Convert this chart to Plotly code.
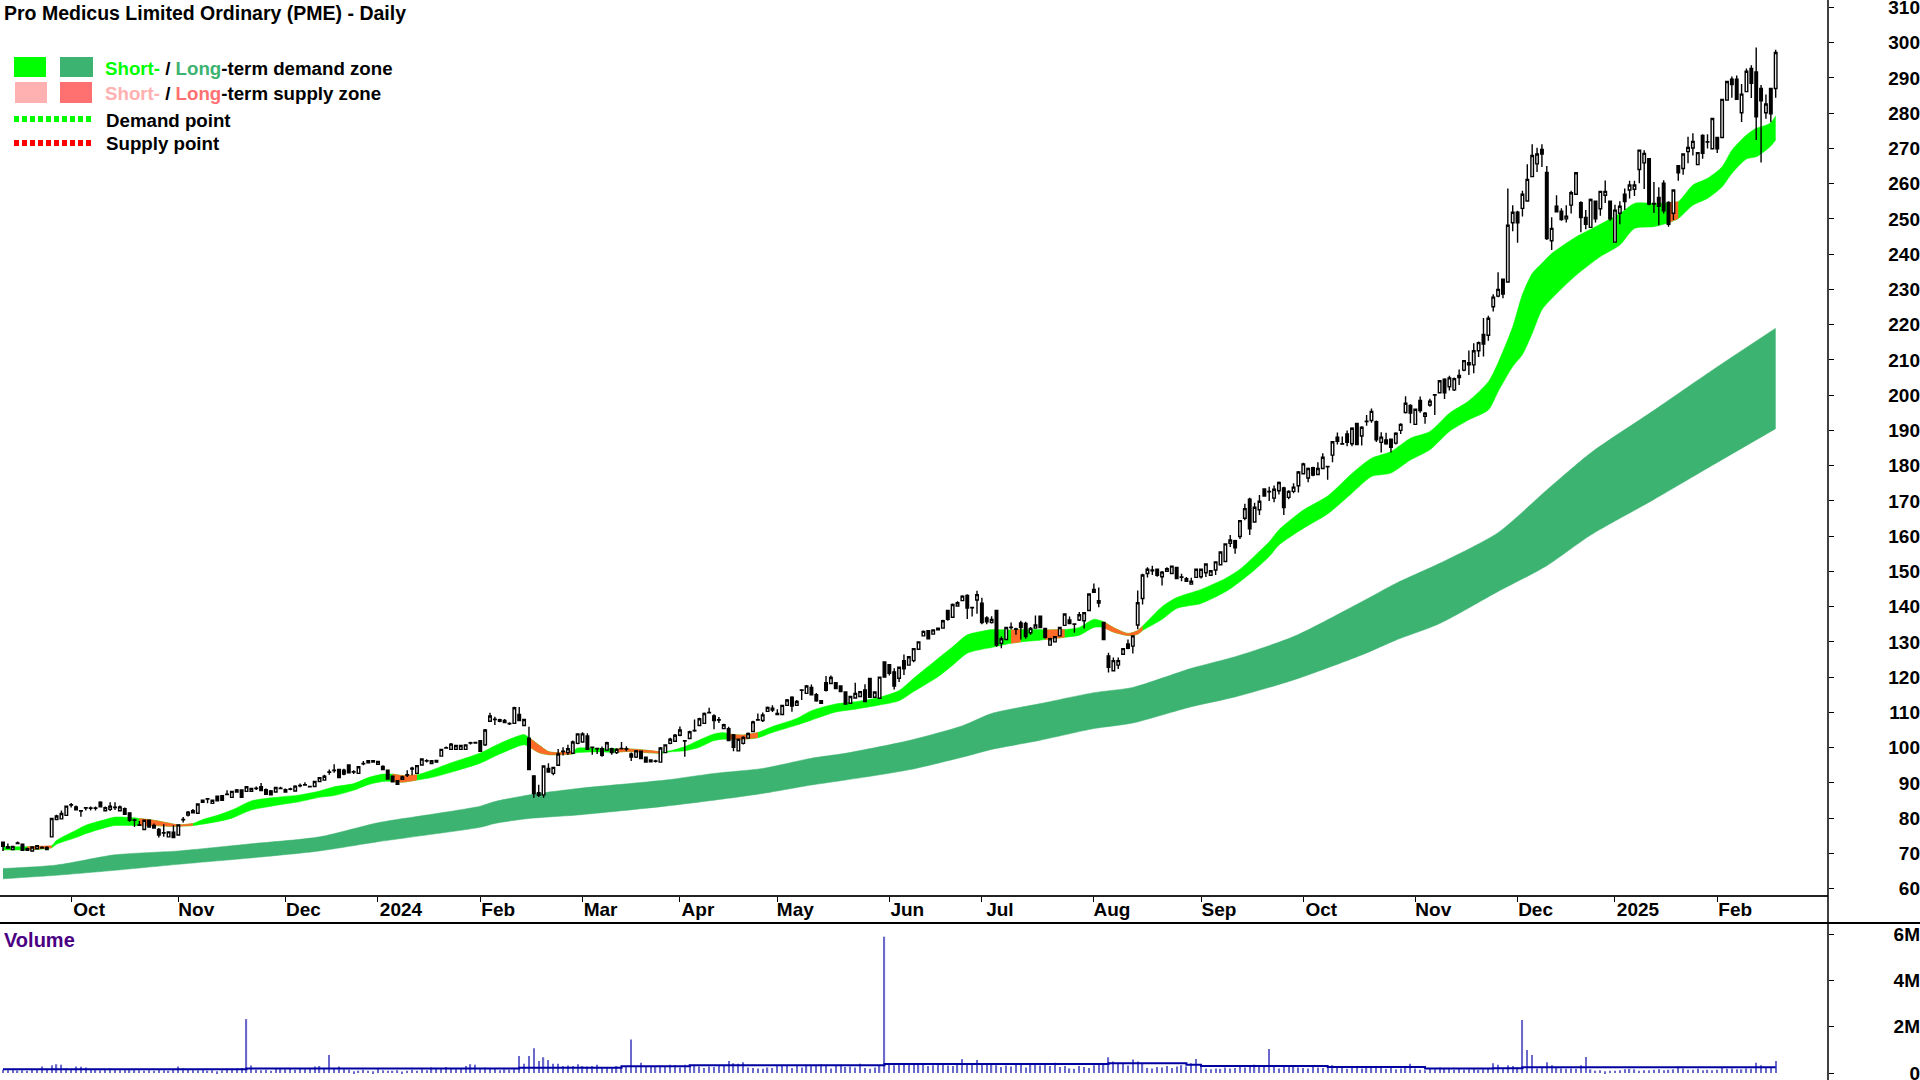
import plotly.graph_objects as go

W, H = 1920, 1080
FONT = "Liberation Sans"

open_vals = [
73.2,71.9,71.1,73.0,72.6,71.3,70.7,71.3,71.7,71.7,
74.7,79.6,79.8,80.8,83.8,83.2,82.1,83.0,82.9,82.9,
84.5,82.1,82.5,83.1,82.1,82.7,81.5,79.5,78.1,76.8,
79.4,77.9,76.8,75.9,74.7,76.0,75.2,79.6,80.9,82.1,
81.4,84.5,85.5,84.2,86.2,86.4,86.8,85.9,88.0,88.0,
87.6,87.6,88.5,88.9,88.1,87.7,87.4,88.5,87.4,88.3,
87.7,89.3,89.5,89.0,89.0,90.4,90.8,93.1,93.6,93.8,
93.6,95.1,93.2,92.7,95.5,95.7,95.9,95.3,94.7,93.6,
91.9,90.6,91.0,92.3,93.9,92.7,95.1,96.3,95.5,95.9,
97.6,100.0,99.5,99.5,99.5,99.5,101.4,101.5,102.0,100.8,
107.5,108.1,107.9,107.7,106.9,106.9,109.4,106.3,102.7,92.0,
86.5,86.6,94.1,92.7,95.0,99.0,98.6,98.4,101.2,101.6,
103.3,100.1,99.8,99.7,99.3,99.7,98.6,99.8,99.7,98.2,
97.3,99.0,97.3,96.0,96.2,95.9,98.6,101.2,101.8,103.5,
102.0,102.6,104.9,106.3,106.9,110.0,109.0,107.9,105.4,105.4,
103.6,99.1,101.2,102.7,104.6,107.9,107.7,110.3,110.7,109.7,
109.4,112.0,114.3,112.0,116.4,115.4,117.1,115.0,112.6,118.4,
118.2,118.4,117.5,115.8,112.6,114.1,114.5,116.4,119.6,114.3,
114.0,124.3,123.5,121.5,119.7,124.7,123.4,124.7,127.9,131.7,
133.2,132.2,133.9,133.9,138.9,137.0,140.2,141.7,143.2,139.8,
141.9,141.0,136.8,135.5,138.9,129.6,130.7,134.2,133.7,135.4,
135.2,132.6,133.9,137.3,133.8,129.1,130.0,131.7,134.7,136.2,
135.1,136.2,136.0,138.9,144.9,141.7,135.5,126.0,121.8,123.4,
126.5,129.4,128.8,134.8,142.3,149.4,150.4,150.6,148.5,150.0,
149.4,151.1,148.4,147.9,146.4,148.3,148.5,149.6,148.9,150.4,
151.9,152.8,158.0,158.7,159.9,165.1,170.5,164.0,167.5,173.4,
172.7,170.8,172.9,173.7,171.0,172.7,174.3,177.7,176.5,179.4,
177.5,179.2,179.8,183.0,188.1,186.2,189.0,186.2,192.0,188.4,
192.6,192.8,192.5,186.6,187.3,187.5,186.4,190.0,195.1,197.1,
191.7,198.5,194.0,197.2,200.1,200.7,204.5,202.4,201.5,205.6,
207.1,209.2,208.6,212.6,217.2,217.0,225.1,228.1,232.9,232.1,
248.9,251.9,253.0,255.1,262.0,265.6,269.7,263.2,243.8,253.6,
252.2,250.0,253.9,257.0,254.6,250.4,247.6,255.0,252.9,256.7,
255.0,243.4,251.6,257.0,258.2,258.4,264.0,265.9,267.1,254.4,
256.1,260.1,254.7,251.6,265.1,264.3,269.1,270.1,265.4,273.7,
271.9,269.9,273.1,273.1,283.7,289.6,289.6,280.1,286.1,292.7,
291.7,287.0,280.1,287.0,287.0]

high_vals = [
73.3,72.8,72.2,73.4,72.8,71.6,71.9,72.3,72.0,72.0,
80.0,81.0,82.2,83.6,84.3,83.6,82.2,83.1,83.3,83.3,
84.8,83.3,84.5,84.5,83.6,83.0,81.7,79.8,79.2,79.6,
79.6,78.5,77.2,78.3,76.3,78.0,78.3,80.3,82.0,82.6,
84.2,85.3,85.6,85.3,86.4,86.6,87.9,87.8,88.3,88.2,
89.1,88.6,89.0,90.0,88.4,88.0,88.9,88.9,88.4,88.6,
89.3,89.8,90.2,89.2,90.6,91.7,92.3,93.8,95.3,94.0,
94.0,95.3,93.6,94.8,96.2,96.5,96.4,96.3,95.0,93.8,
92.1,90.8,92.0,93.6,94.6,95.1,97.0,96.7,96.5,96.6,
99.7,100.3,101.3,100.8,100.8,101.0,101.7,101.7,102.2,105.3,
109.9,108.8,108.2,108.1,107.2,111.6,111.5,108.2,105.9,92.2,
89.5,95.0,95.6,94.6,99.6,100.1,100.8,102.0,104.1,104.4,
104.1,100.3,100.0,100.3,101.7,100.0,99.8,101.6,100.4,98.6,
99.3,99.2,97.5,96.7,96.6,100.2,101.0,102.8,103.9,106.0,
102.2,104.8,108.0,108.5,110.0,111.3,109.5,108.7,106.8,105.9,
103.9,102.6,103.2,104.3,107.6,109.7,110.0,111.7,112.0,110.9,
112.2,113.8,114.6,113.5,116.6,117.8,117.9,115.5,113.5,120.3,
120.5,118.6,117.7,115.9,114.7,118.4,116.1,118.0,119.8,116.0,
120.2,124.5,123.7,122.5,123.0,126.4,126.0,128.3,130.2,133.2,
133.4,133.6,134.1,136.3,139.1,140.9,141.5,143.2,143.5,140.0,
144.5,142.5,137.3,137.3,139.1,131.5,134.3,135.5,134.0,136.0,
135.7,134.2,137.5,137.5,134.0,131.2,131.7,134.3,138.1,137.2,
135.3,138.5,138.5,143.8,146.6,145.4,135.7,126.9,125.6,125.6,
128.3,130.7,131.9,144.6,149.3,151.2,151.6,150.8,150.1,151.2,
151.7,151.3,149.3,148.4,148.2,150.8,150.8,152.3,150.4,152.9,
155.7,158.0,160.3,159.0,164.6,169.2,170.9,169.5,171.7,173.6,
174.0,174.4,175.5,174.0,173.0,175.0,178.5,180.8,179.5,179.7,
181.0,183.5,180.0,187.0,189.4,188.3,190.0,190.9,192.2,191.2,
194.4,196.2,192.8,189.5,189.3,187.7,189.5,192.0,199.7,197.4,
196.2,199.6,195.2,199.0,200.3,204.3,204.8,205.5,205.0,207.3,
210.0,212.7,214.7,215.2,221.9,222.5,228.6,234.9,233.1,258.6,
253.9,252.3,258.0,265.5,271.2,270.2,271.2,265.0,250.5,256.7,
253.0,253.9,258.0,263.3,255.0,252.5,255.8,255.2,258.0,260.9,
255.2,254.0,255.0,258.6,260.8,260.8,269.7,269.5,267.3,260.5,
259.0,261.0,255.0,258.4,265.3,268.6,273.3,274.3,269.0,274.0,
274.0,278.7,273.3,284.1,289.2,290.4,290.7,288.3,292.7,293.6,
298.6,288.0,285.3,287.2,298.0]

low_vals = [
70.7,71.4,71.0,72.7,70.8,70.8,70.6,71.2,71.3,71.0,
74.6,79.4,79.7,80.7,83.0,82.2,80.4,82.2,82.2,82.2,
83.0,81.9,82.0,82.3,82.0,81.0,79.0,77.5,77.9,76.7,
77.3,77.0,74.5,74.7,74.5,74.3,75.0,78.8,80.5,81.3,
81.3,84.4,84.2,84.0,84.7,85.0,86.5,85.7,87.2,85.7,
87.4,87.4,88.0,87.6,86.6,86.4,87.2,88.2,87.2,87.9,
87.5,88.8,89.2,88.8,88.8,90.2,90.6,92.3,92.9,91.3,
92.2,92.7,92.5,92.5,95.0,95.6,95.8,95.2,93.6,90.9,
90.1,89.4,90.8,91.7,92.2,92.5,95.0,95.8,95.3,95.8,
97.4,99.7,99.3,99.3,99.3,99.3,100.9,101.2,98.8,100.5,
107.3,106.4,107.2,106.9,106.4,106.8,107.5,106.1,93.6,85.8,
86.0,85.8,93.0,92.2,94.8,97.8,97.9,98.2,101.0,101.4,
99.3,98.0,98.2,97.4,99.1,98.0,98.2,99.5,99.0,96.2,
97.1,96.7,95.7,95.8,95.8,95.7,98.4,101.0,101.6,103.2,
97.4,102.4,104.5,106.1,106.7,109.7,105.2,107.0,105.2,101.8,
99.0,99.0,100.9,102.5,104.4,107.6,107.3,110.1,110.1,109.2,
109.2,111.8,110.2,111.8,113.5,115.2,114.8,113.0,112.4,115.9,
118.0,116.6,115.7,112.2,112.4,113.9,114.3,112.9,114.1,114.1,
113.8,119.8,120.5,116.5,118.6,120.6,123.2,124.2,127.7,131.5,
130.7,132.0,133.2,133.7,136.0,136.8,140.0,141.5,136.5,137.2,
138.0,135.0,135.0,135.2,128.6,128.2,130.5,133.5,132.0,130.7,
130.9,132.0,133.7,133.9,131.0,128.9,129.8,131.5,134.5,135.0,
132.6,135.9,133.8,138.7,143.9,139.8,130.5,121.3,121.6,122.3,
126.3,127.9,126.7,133.6,140.6,148.3,149.0,148.5,146.0,149.8,
149.2,147.8,147.2,147.0,146.2,148.1,148.0,148.4,148.7,149.0,
151.7,152.6,156.9,155.0,159.2,164.5,160.3,163.8,166.0,171.2,
170.0,169.6,171.8,166.0,170.5,172.2,172.4,177.5,175.3,177.0,
177.3,179.0,176.0,181.0,186.0,185.9,185.5,185.5,185.8,185.7,
191.3,192.2,186.7,183.7,185.9,183.7,186.0,189.0,194.8,192.0,
191.5,195.0,191.9,196.7,194.4,200.5,198.9,201.3,201.2,202.9,
206.8,205.7,206.2,210.8,211.0,215.4,223.7,227.8,227.5,231.9,
246.5,243.2,250.7,254.9,261.8,263.3,264.7,244.0,241.2,251.8,
249.5,249.0,251.5,256.8,246.2,247.1,247.4,249.0,250.9,254.5,
249.5,243.3,248.5,252.5,255.8,256.5,260.1,258.5,253.9,251.7,
248.2,251.5,247.8,249.7,260.8,262.5,265.8,268.0,265.2,267.1,
270.0,269.7,268.7,272.9,283.5,284.4,283.7,277.5,285.9,284.3,
272.4,266.0,278.4,277.4,284.4]

close_vals = [
72.0,71.5,72.0,72.8,70.9,70.9,71.8,72.2,71.5,71.1,
79.9,80.6,81.3,83.4,83.7,82.4,82.0,82.9,82.8,82.8,
83.2,83.0,83.4,83.0,83.2,81.1,79.4,79.4,78.0,79.4,
77.5,77.2,75.2,75.8,76.1,74.5,78.1,79.5,81.7,81.5,
84.0,85.1,85.4,85.1,84.9,85.1,86.7,87.6,87.4,85.9,
88.9,88.4,88.4,87.8,86.8,86.6,88.7,88.4,88.1,88.2,
89.1,89.2,89.4,88.9,90.4,91.5,91.9,93.0,93.5,91.5,
92.5,92.9,93.1,94.6,95.4,96.3,96.3,96.1,93.8,91.1,
90.3,89.6,91.7,92.2,94.2,94.9,96.8,96.2,96.3,96.4,
99.5,99.9,101.0,100.6,100.6,100.8,101.3,101.3,99.0,105.0,
109.0,108.0,107.5,107.1,106.8,111.3,107.7,108.0,93.8,87.0,
87.2,94.8,93.1,94.4,98.2,98.9,99.7,101.6,103.9,103.9,
99.5,100.0,99.7,97.8,101.4,98.6,99.5,99.7,99.6,97.3,
99.1,96.9,95.9,96.5,96.1,99.9,100.8,102.4,103.5,105.0,
101.9,104.5,104.8,108.2,109.7,109.9,107.7,107.8,106.5,102.0,
100.1,102.4,102.9,104.0,107.3,107.8,109.3,111.4,111.2,109.4,
112.0,113.5,111.8,113.1,116.3,117.5,115.0,113.3,113.3,116.3,
119.9,116.8,115.9,112.4,114.5,115.4,115.9,113.1,114.3,115.8,
120.0,120.0,121.1,117.5,122.8,122.4,125.8,128.1,130.0,133.0,
130.9,133.4,133.4,136.0,136.4,140.6,141.1,143.0,139.6,139.7,
143.4,135.5,135.7,136.4,129.1,130.9,134.1,134.1,133.6,134.1,
131.5,133.8,134.8,134.1,131.3,130.9,131.5,134.1,137.9,135.2,
135.0,137.7,138.3,143.6,144.1,141.0,130.7,122.8,124.7,124.7,
128.1,128.2,131.7,141.1,149.0,150.6,150.2,148.9,149.8,150.8,
151.5,148.0,148.3,147.2,147.2,150.6,150.6,152.1,150.2,152.7,
155.5,157.8,158.9,156.7,164.4,167.8,162.1,168.2,169.9,171.4,
172.6,173.3,175.2,168.1,172.7,173.9,178.2,180.5,179.2,177.3,
179.2,182.4,179.7,186.8,186.9,186.1,186.6,190.6,186.0,190.9,
192.5,195.4,187.3,188.1,186.2,185.2,189.2,191.7,197.7,194.9,
196.0,195.6,194.9,198.3,200.0,204.1,200.7,204.9,204.7,205.0,
209.8,208.6,212.6,214.9,214.5,221.8,227.8,230.0,228.7,248.2,
251.9,248.9,257.0,261.2,268.0,268.4,268.4,244.4,247.3,252.0,
249.8,250.8,257.4,263.1,250.4,248.5,255.5,250.0,257.8,257.8,
250.0,252.5,253.6,254.9,259.6,259.6,269.5,268.6,254.2,254.2,
253.6,252.3,248.5,258.2,263.1,268.4,270.3,272.0,268.8,268.6,
271.8,278.5,269.9,283.9,289.0,288.1,283.9,285.4,291.9,288.5,
279.0,283.5,282.6,279.8,297.2]

volume_m = [
.14,.12,.18,.11,.12,.1,.14,.16,.28,.16,
.34,.38,.36,.2,.16,.28,.27,.24,.14,.16,
.12,.14,.2,.14,.12,.14,.13,.15,.12,.1,
.12,.1,.14,.12,.1,.18,.28,.2,.14,.14,
.12,.14,.1,.12,.08,.12,.18,.14,.2,.22,
2.33,.32,.14,.12,.14,.1,.22,.18,.16,.18,
.14,.2,.16,.22,.28,.3,.2,.78,.18,.28,
.16,.14,.08,.1,.14,.1,.08,.18,.12,.1,
.1,.12,.06,.1,.14,.1,.16,.12,.24,.2,
.22,.26,.22,.22,.18,.3,.38,.36,.16,.24,
.2,.18,.12,.16,.14,.16,.73,.4,.73,1.07,
.52,.68,.56,.4,.4,.3,.32,.3,.38,.3,
.28,.3,.36,.26,.24,.22,.3,.26,.26,1.45,
.3,.44,.3,.3,.26,.32,.28,.36,.34,.24,
.36,.34,.3,.28,.22,.28,.26,.3,.3,.52,
.42,.4,.46,.24,.22,.2,.18,.24,.22,.3,
.32,.3,.22,.3,.24,.34,.3,.32,.38,.36,
.2,.3,.36,.26,.28,.24,.4,.22,.18,.24,
.34,5.89,.4,.34,.42,.36,.36,.4,.38,.42,
.3,.34,.38,.42,.32,.3,.4,.6,.4,.36,
.56,.36,.4,.38,.34,.26,.32,.28,.36,.36,
.24,.38,.36,.32,.36,.3,.44,.26,.3,.2,
.18,.3,.26,.22,.34,.38,.4,.68,.5,.42,
.4,.32,.58,.5,.42,.22,.2,.26,.24,.3,
.22,.28,.34,.28,.42,.6,.3,.2,.16,.2,
.18,.24,.2,.22,.28,.24,.28,.36,.3,.32,
1.04,.26,.2,.26,.3,.28,.24,.22,.2,.26,
.24,.22,.3,.34,.28,.24,.18,.24,.26,.2,
.22,.28,.22,.3,.18,.24,.16,.2,.22,.4,
.2,.14,.12,.2,.16,.24,.2,.22,.14,.18,
.14,.16,.18,.14,.16,.18,.42,.36,.2,.34,
.3,.24,2.29,.99,.78,.2,.28,.46,.34,.26,
.2,.18,.2,.18,.34,.69,.16,.1,.12,.08,
.1,.1,.12,.16,.18,.16,.1,.12,.12,.14,
.16,.12,.14,.16,.28,.2,.14,.14,.18,.12,
.14,.12,.14,.22,.18,.2,.16,.16,.2,.18,
.44,.34,.22,.24,.52]

vol_avg_bar = [0, 50, 106, 127, 141, 181, 227, 243, 246, 272, 292, 306, 312, 364]
vol_avg_m = [.16, .2, .23, .29, .33, .39, .42, .36, .3, .26, .2, .21, .25, .25]

short_bar = [0,5,10,11,15,17,21,23,27,28,31,34,36,39,41,44,47,51,56,61,65,68,72,75,78,80,82,85,88,92,98,102,107,108,110,112,114,117,118,122,126,128,132,135,137,140,143,146,148,149,152,155,158,163,166,171,175,180,184,187,192,195,198,201,203,207,209,213,214,218,221,224,226,228,231,233,234,238,241,246,251,254,257,260,262,267,272,277,281,285,289,293,297,301,305,307,310,312,314,316,318,323,328,332,335,339,342,344,347,350,353,355,358,360,362,363,364]
short_hi = [71.9,71.9,72.2,73.7,76.6,78,79.6,80.3,80.1,79.9,79.4,78.6,78.1,78.5,79.6,80.8,82.3,84.9,85.9,86.6,87.7,88.9,89.8,91.5,92.5,92.5,92.1,92.3,93.6,95.7,98.5,101.2,103.7,102.9,100.8,98.9,98.6,99.1,99.9,99.8,99.7,99.7,99.3,98.8,99.1,100.3,102.2,103.9,104.3,103.9,103.6,104.3,106,108.3,110.5,112.4,113,114.3,116.2,119.7,125.3,128.6,132,133,133.5,133.4,133.5,133.5,133.4,133.5,134.1,136.4,135.7,134.1,132.4,133.2,134.5,140,142.6,144.9,148,150.6,154.4,158.4,161.8,167.4,171.4,177.8,182.1,184,187.8,189.7,194.9,198.4,203.8,209.2,219.4,228.6,234.5,237.4,240.2,244.9,248.5,251.5,254.4,254.4,254.6,254.9,259.6,261.5,264.8,269.5,273.8,275.7,276.6,277.3,279.2]
short_lo = [71,71,71.6,72.6,74.5,75.6,77.3,77.9,77.9,77.9,77.9,77.7,77.7,77.9,78.3,79,80,82.3,83.6,84.7,85.9,86.4,87.9,89.5,90.4,90.4,90.2,90.8,91.5,93,95.6,98.2,100.8,100.3,98.6,98,98,98.2,98.6,98.8,98.7,98.9,98.6,98.4,98.8,99.1,100.1,102,102.4,102.4,102.4,102.8,104.3,106.4,107.8,110.1,110.9,112.1,113.3,115.9,120.1,123.4,126.8,127.9,128.4,129.6,130,130.5,130.7,131.3,131.9,134.1,134.1,132.8,131.8,132.2,133.2,136.4,139.5,140.9,144.2,147.1,150.4,154.2,157.5,162.2,166.3,172.2,176.9,177.9,181.6,184.5,189.7,193,195.8,201,208.1,211.5,217.5,224.2,227.4,234,239.3,242.6,247.3,247.8,248.9,250.1,253.9,255.8,259.1,262.9,267,267.6,269.5,270.7,272.4]
short_supply_spans = [(5,10),(28,39),(80,85),(108,117),(126,135),(149,155),(207,209),(214,218),(226,234),(342,344)]

long_bar = [0,11,23,36,50,65,77,88,98,101,108,118,136,146,156,166,173,186,197,203,213,224,232,244,253,265,279,286,295,307,317,326,339,351,364]
long_hi = [65.7,66.7,69.6,70.7,72.6,74.7,78.7,81.1,83.4,84.7,86.6,88.4,90.8,92.7,94.1,97,98.4,102,106.2,109.7,112.5,115.6,117.1,122.5,125.8,131.5,141.4,146.6,152.3,161,173.1,183.6,195.7,207.1,219]
long_lo = [62.8,63.8,65.2,66.9,68.6,70.7,73.3,75.4,77.4,78.5,79.9,80.9,83.4,85.1,87,89.4,90.8,93.7,97.3,99.5,102.1,105.4,107,111.6,114.4,119.2,126.3,130.5,135.2,144.3,151.6,160.3,170.4,180.1,190.5]

month_bar = [14,36,58,77,98,119,139,159,182,201,224,246,267,290,311,331,352]
month_text = ["Oct","Nov","Dec","2024","Feb","Mar","Apr","May","Jun","Jul","Aug","Sep","Oct","Nov","Dec","2025","Feb"]
price_ticks = list(range(60, 320, 10))
vol_ticks = [0, 2, 4, 6]
vol_text = ["0", "2M", "4M", "6M"]

GREEN, SEA, PINK, SALMON, ORANGE = "#00FF00", "#3CB371", "#FFB0B0", "#FF7070", "#FF6A28"
AXIS_X = 1828
BAR0, BAR_W = 3.0, 4.87
xr = [-BAR0 / BAR_W, (AXIS_X - BAR0) / BAR_W]
px = lambda v: v / W
py = lambda v: 1 - v / H

n = len(close_vals)
assert len(open_vals) == len(high_vals) == len(low_vals) == n == len(volume_m)
assert len(short_bar) == len(short_hi) == len(short_lo)
assert len(long_bar) == len(long_hi) == len(long_lo)
bars = list(range(n))

fig = go.Figure()

def zone(x, hi, lo, color):
    edge = dict(color=color, width=0.5, shape="spline", smoothing=0.7)
    fig.add_trace(go.Scatter(x=x, y=lo, mode="lines", line=edge, xaxis="x", yaxis="y",
                             hoverinfo="skip", showlegend=False))
    fig.add_trace(go.Scatter(x=x, y=hi, mode="lines", line=edge, fill="tonexty", fillcolor=color,
                             xaxis="x", yaxis="y", hoverinfo="skip", showlegend=False))

zone(long_bar, long_hi, long_lo, SEA)
zone(short_bar, short_hi, short_lo, GREEN)
for a, b in short_supply_spans:
    keep = [k for k, v in enumerate(short_bar) if a <= v <= b]
    zone([short_bar[k] for k in keep], [short_hi[k] for k in keep], [short_lo[k] for k in keep], ORANGE)

fig.add_trace(go.Candlestick(
    x=bars, open=open_vals, high=high_vals, low=low_vals, close=close_vals,
    xaxis="x2", yaxis="y2", whiskerwidth=0, showlegend=False,
    increasing=dict(line=dict(color="#000000", width=1.4), fillcolor="#FFFFFF"),
    decreasing=dict(line=dict(color="#000000", width=1.4), fillcolor="#000000")))

fig.add_trace(go.Bar(x=bars, y=volume_m, xaxis="x3", yaxis="y3", width=0.26,
                     marker=dict(color="#6A6ACC", line=dict(width=0)), showlegend=False))
fig.add_trace(go.Scatter(x=vol_avg_bar, y=vol_avg_m, xaxis="x3", yaxis="y4", mode="lines",
                         line=dict(color="#0000A0", width=2, shape="hv"), showlegend=False))

tickfont = dict(family=FONT, size=19, color="#000000", weight=700)
dom_x = [0, px(AXIS_X)]
dom_price = [py(895), 1]
dom_vol = [0, py(923)]
p_range = [58.2, 312.1]
v_range = [-0.302, 6.48]
label_pos = [b + (3 + 5.0 * len(t)) / BAR_W for b, t in zip(month_bar, month_text)]

fig.update_layout(
    width=W, height=H, margin=dict(l=0, r=0, t=0, b=0, autoexpand=False), autosize=False,
    paper_bgcolor="#FFFFFF", plot_bgcolor="#FFFFFF", showlegend=False, boxgap=0.25,
    xaxis=dict(domain=dom_x, range=xr, anchor="y", tickmode="array", tickvals=month_bar,
               showticklabels=False, ticks="outside", ticklen=5, tickcolor="#000000", tickwidth=1,
               showline=True, linecolor="#222222", linewidth=2, showgrid=False, zeroline=False),
    yaxis=dict(domain=dom_price, range=p_range, anchor="x", side="right", tickmode="array",
               tickvals=price_ticks, showticklabels=False, ticks="outside", ticklen=5,
               tickcolor="#000000", showgrid=False, zeroline=False, showline=False),
    xaxis2=dict(domain=dom_x, range=xr, overlaying="x", anchor="y", tickmode="array",
                tickvals=label_pos, ticktext=month_text, tickfont=tickfont, ticks="",
                showgrid=False, zeroline=False, showline=False, rangeslider=dict(visible=False),
                tickangle=0, ticklabeloverflow="allow", ticklabelstandoff=1),
    yaxis2=dict(domain=dom_price, range=p_range, overlaying="y", anchor="free", position=1,
                side="left", tickmode="array", tickvals=price_ticks, tickfont=tickfont, ticks="",
                showgrid=False, zeroline=False, showline=False, ticklabeloverflow="allow"),
    xaxis3=dict(domain=dom_x, range=xr, anchor="y3", visible=False),
    yaxis3=dict(domain=dom_vol, range=v_range, anchor="x3", side="right", tickmode="array",
                tickvals=vol_ticks, showticklabels=False, ticks="outside", ticklen=5,
                tickcolor="#000000", showgrid=False, zeroline=False, showline=False),
    yaxis4=dict(domain=dom_vol, range=v_range, overlaying="y3", anchor="free", position=1,
                side="left", tickmode="array", tickvals=vol_ticks, ticktext=vol_text,
                tickfont=tickfont, ticks="", showgrid=False, zeroline=False, showline=False,
                ticklabeloverflow="allow"),
)

shapes = [
    dict(type="line", xref="paper", yref="paper", x0=px(AXIS_X), x1=px(AXIS_X), y0=0, y1=1,
         line=dict(color="#000000", width=1.5)),
    dict(type="line", xref="paper", yref="paper", x0=0, x1=1, y0=py(923), y1=py(923),
         line=dict(color="#000000", width=2)),
]
for x0, x1, y0, y1, c in [(14, 46, 57, 77, GREEN), (60, 93, 57, 77, SEA),
                          (15, 47, 82, 103, PINK), (60, 92, 82, 103, SALMON)]:
    shapes.append(dict(type="rect", xref="paper", yref="paper", x0=px(x0), x1=px(x1),
                       y0=py(y1), y1=py(y0), fillcolor=c, line=dict(width=0)))
for y, c in [(119, "#00FF00"), (143, "#FF0000")]:
    shapes.append(dict(type="line", xref="paper", yref="paper", x0=px(14), x1=px(92),
                       y0=py(y), y1=py(y), line=dict(color=c, width=6, dash="5px,3px")))
fig.update_layout(shapes=shapes)

def label(text, x, y, color="#000000", size=18.7):
    fig.add_annotation(text=text, xref="paper", yref="paper", x=px(x), y=py(y), xanchor="left",
                       yanchor="middle", showarrow=False, align="left",
                       font=dict(family=FONT, size=size, color=color, weight=700), borderpad=0)

label("Pro Medicus Limited Ordinary (PME) - Daily", 3, 13, size=19.5)
label(f'<span style="color:{GREEN}">Short-</span> / <span style="color:{SEA}">Long</span>-term demand zone', 104, 68)
label(f'<span style="color:{PINK}">Short-</span> / <span style="color:{SALMON}">Long</span>-term supply zone', 104, 93)
label("Demand point", 105, 120)
label("Supply point", 105, 143)
label("Volume", 3, 940, "#4B0082", size=20)

fig.write_html("out.html", config=dict(displayModeBar=False),
               post_script="document.body.style.margin='0';document.body.style.overflow='hidden';")
